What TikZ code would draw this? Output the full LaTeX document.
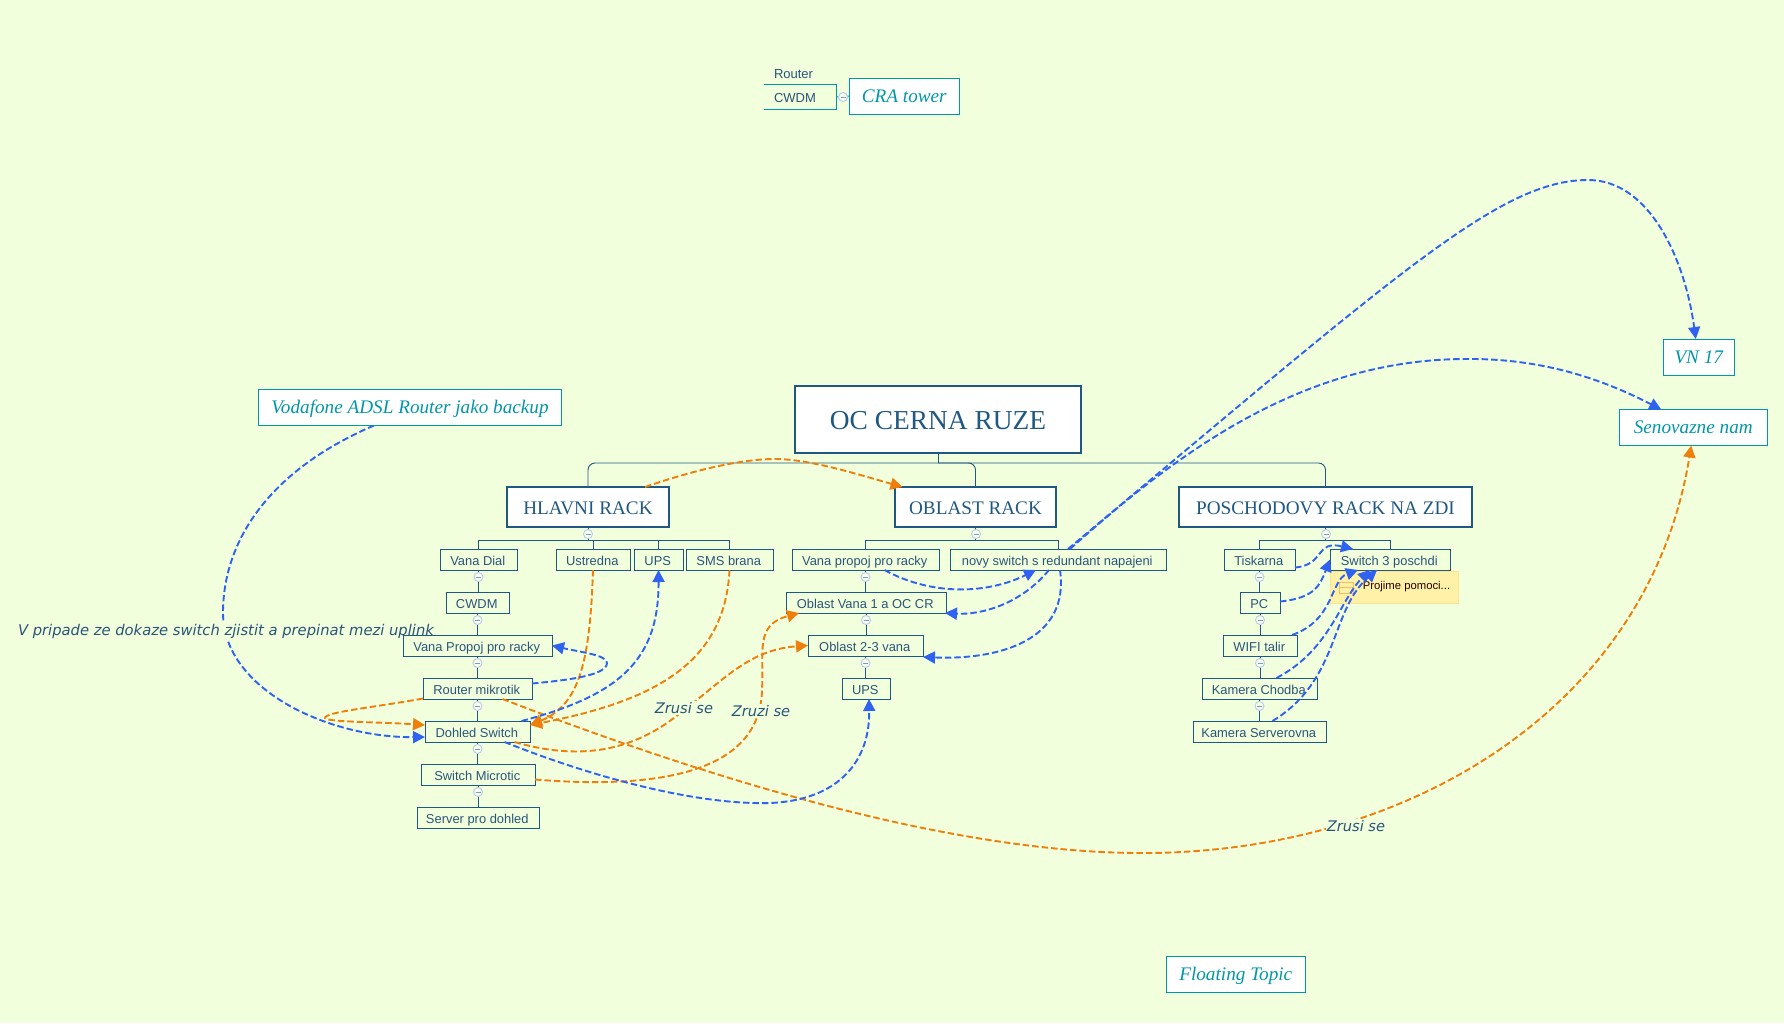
\documentclass[tikz,border=0pt]{standalone}
\usepackage{fontspec}
\setmainfont{Liberation Sans}
\newfontfamily\titlef{Liberation Serif}
\newfontfamily\oblf{DejaVu Sans}
\usetikzlibrary{arrows.meta,calc}
\definecolor{bgc}{HTML}{F1FFDD}
\definecolor{navy}{HTML}{1F5880}
\definecolor{teal2}{HTML}{0097A7}
\definecolor{bluec}{HTML}{2F62F0}
\definecolor{orangec}{HTML}{EF7F0A}
\definecolor{txt}{HTML}{2A5478}
\definecolor{notef}{HTML}{FFF1A8}
\definecolor{noteb}{HTML}{FFE28A}
\definecolor{circ}{HTML}{B9C8F0}
\pgfdeclarelayer{back}
\pgfsetlayers{back,main}
\newcommand{\bx}[7][]{\node[#1,minimum width={(#5-#3)*1pt},minimum height={(#6-#4)*1pt}] (#2) at ({(#3+#5)/2},{(#4+#6)/2}) {#7};}
\tikzset{
  every node/.style={inner sep=0pt,outer sep=0pt},
  rootbox/.style={draw=navy,line width=2.2pt,fill=white,text=navy,text height=20pt,text depth=0pt,font=\titlef\fontsize{27.4}{30}\selectfont},
  mainbox/.style={draw=navy,line width=2.2pt,fill=white,text=navy,text height=15.5pt,text depth=0pt,font=\titlef\fontsize{19.2}{22}\selectfont},
  leaf/.style={draw=navy,line width=0.9pt,text=txt,font=\fontsize{12.9}{15}\selectfont,text height=11.6pt,text depth=0pt,execute at end node={\hspace{1.5pt}}},
  floatbox/.style={draw=teal2,line width=1pt,fill=white,text=teal2,text height=12pt,text depth=0pt,font=\titlef\itshape\fontsize{19.2}{22}\selectfont},
  wire/.style={draw=navy,line width=0.9pt},
  collapse/.style={circle,draw=circ,fill=bgc!60!white,line width=0.9pt,minimum size=9pt,path picture={\draw[circ!60!navy,line width=0.7pt] ([xshift=-2.5pt]path picture bounding box.center) -- ([xshift=2.5pt]path picture bounding box.center);}},
  rel/.style={line width=1.9pt,dash pattern=on 6.5pt off 3pt,-{Triangle[length=12pt,width=12pt]}},
  relb/.style={rel,draw=bluec},
  relo/.style={rel,draw=orangec},
  lbl/.style={fill=bgc,text=txt,font=\oblf\itshape\fontsize{14.6}{17}\selectfont,inner sep=1pt}
}
\begin{document}
\begin{tikzpicture}[x=1pt,y=-1pt]
\begin{pgfonlayer}{back}
\fill[bgc] (0,0) rectangle (1784,1023);
\end{pgfonlayer}
\useasboundingbox (0,0) rectangle (1784,1023);
% main topics
\bx[rootbox]{oc}{795}{386}{1081}{453}{OC CERNA RUZE}
\bx[mainbox]{hl}{507}{487}{669}{527}{HLAVNI RACK}
\bx[mainbox]{ob}{895}{487}{1056}{527}{OBLAST RACK}
\bx[mainbox]{po}{1179}{487}{1472}{527}{POSCHODOVY RACK NA ZDI}
\coordinate (topbus) at (938,463);
\draw[wire] (oc.south) -- (topbus);
\draw[wire,rounded corners=7pt] (hl.north) |- (topbus);
\draw[wire,rounded corners=7pt] (ob.north) |- (topbus);
\draw[wire,rounded corners=7pt] (po.north) |- (topbus);
% leaves
\bx[leaf]{vd}{440}{549}{517}{570}{Vana Dial}
\bx[leaf]{us}{556}{549}{630}{570}{Ustredna}
\bx[leaf]{up}{634}{549}{683}{570}{UPS}
\bx[leaf]{sm}{686}{549}{773}{570}{SMS brana}
\bx[leaf]{cw}{446}{592}{509}{613}{CWDM}
\bx[leaf]{vp}{403}{635}{552}{656}{Vana Propoj pro racky}
\bx[leaf]{rm}{423}{678}{532}{699}{Router mikrotik}
\bx[leaf]{ds}{425}{721}{530}{742}{Dohled Switch}
\bx[leaf]{sw}{421}{764}{535}{785}{Switch Microtic}
\bx[leaf]{sd}{417}{807}{539}{828}{Server pro dohled}
\bx[leaf]{ov}{792}{549}{939}{570}{Vana propoj pro racky}
\bx[leaf]{ns}{950}{549}{1166}{570}{novy switch s redundant napajeni}
\bx[leaf]{o1}{786}{592}{946}{613}{Oblast Vana 1 a OC CR}
\bx[leaf]{o2}{808}{635}{923}{656}{Oblast 2-3 vana}
\bx[leaf]{ou}{842}{678}{890}{699}{UPS}
\bx[leaf]{ti}{1224}{549}{1295}{570}{Tiskarna}
\bx[leaf]{s3}{1330}{549}{1450}{570}{Switch 3 poschdi}
\bx[leaf]{pc}{1240}{592}{1280}{613}{PC}
\bx[leaf]{wi}{1223}{635}{1297}{656}{WIFI talir}
\bx[leaf]{kc}{1202}{678}{1317}{699}{Kamera Chodba}
\bx[leaf]{ks}{1193}{721}{1326}{742}{Kamera Serverovna}
% buses
\coordinate (b1) at (588,540);
\coordinate (b2) at (975.5,540);
\coordinate (b3) at (1325.5,540);
\draw[wire] (hl.south) -- (b1);
\draw[wire] (ob.south) -- (b2);
\draw[wire] (po.south) -- (b3);
\foreach \c in {vd,us,up,sm} {\draw[wire] (\c.north) |- (b1);}
\foreach \c in {ov,ns} {\draw[wire] (\c.north) |- (b2);}
\foreach \c in {ti,s3} {\draw[wire] (\c.north) |- (b3);}
% chains
\foreach \a/\b in {vd/cw,cw/vp,vp/rm,rm/ds,ds/sw,sw/sd,ov/o1,o1/o2,o2/ou,ti/pc,pc/wi,wi/kc,kc/ks} {
  \draw[wire] (\a.south) -- (\a.south |- \b.north);
  \node[collapse] at ([yshift=-7pt]\a.south) {};
}
\node[collapse] (c1) at (588,534) {};
\node[collapse] (c2) at (976,534) {};
\node[collapse] (c3) at (1326,534) {};
% note
\bx[draw=noteb,line width=0.8pt,fill=notef,text=black!85!red,font=\fontsize{11.3}{14}\selectfont]{nt}{1330}{571}{1458}{603}{\hspace*{25pt}Projime pomoci...}
\draw[orangec!45!notef,line width=1pt] (1339,582) rectangle (1353,587);
\draw[orangec!45!notef,line width=1pt] (1339,587) rectangle (1353,593);
% floating topics
\bx[floatbox]{vf}{258.5}{389}{561.5}{425.5}{Vodafone ADSL Router jako backup}
\bx[floatbox]{vn}{1663}{339}{1734.5}{375}{VN 17}
\bx[floatbox]{se}{1619}{409.5}{1767.5}{445.5}{Senovazne nam}
\bx[floatbox]{ft}{1166}{956}{1305.5}{992.5}{Floating Topic}
\bx[floatbox]{cr}{849}{78}{959.5}{114}{CRA tower}
% CWDM / Router attached to CRA tower
\node[text=txt,font=\fontsize{13}{15}\selectfont,anchor=base west] (rt) at (774,78) {Router};
\node[text=txt,font=\fontsize{13}{15}\selectfont,anchor=base west] (cd) at (774,102.5) {CWDM};
\coordinate (cdtl) at (764,84);
\coordinate (cdtr) at (836.5,84);
\coordinate (cdbr) at (836.5,109);
\coordinate (cdbl) at (764,109);
\draw[draw=teal2,line width=1pt] (cdtl) -- (cdtr) -- (cdbr) -- (cdbl);
\draw[draw=teal2,line width=1pt] (836.5,97) -- (cr.west);
\node[collapse] (c4) at (843,97) {};
% relationships: behind
\begin{pgfonlayer}{back}
\draw[relb] ([xshift=-36pt]vf.south) .. controls (270,470) and (223,540) .. (223,613) .. controls (223,690) and (330,738) .. ([yshift=-5.5pt]ds.west);
\node[lbl,anchor=west,font=\oblf\itshape\fontsize{14.75}{17}\selectfont] (vp2) at (17,631) {V pripade ze dokaze switch zjistit a prepinat mezi uplink};
\end{pgfonlayer}
% relationships: orange
\draw[relo] ([xshift=57pt]hl.north) .. controls (700,468) and (745,459) .. (775,459) .. controls (810,459) and (860,475) .. ([xshift=-73pt]ob.north);
\draw[relo] ([yshift=-10pt]rm.west) .. controls (370,708) and (325,712) .. (325,718) .. controls (325,722) and (380,722) .. ([yshift=6.5pt]ds.west);
\draw[relo] (us.south) .. controls (590,660) and (580,705) .. ([yshift=6.5pt]ds.east);
\draw[relo] (sm.south) .. controls (725,660) and (660,700) .. ([yshift=6.5pt]ds.east);
\draw[relo] ([xshift=37pt]ds.south) .. controls (570,758) and (620,755) .. (667,723) .. controls (720,685) and (745,650) .. (o2.west);
\draw[relo] ([yshift=-5pt]sw.east) .. controls (640,788) and (760,780) .. (762,690) .. controls (764,650) and (755,625) .. ([xshift=13pt]o1.south west);
\draw[relo] ([xshift=25pt]rm.south) .. controls (700,775) and (950,855) .. (1150,853) .. controls (1420,850) and (1650,700) .. ([xshift=-2pt]se.south);
% relationships: blue
\draw[relb] ([yshift=5pt]rm.east) .. controls (570,680) and (607,675) .. (607,663) .. controls (607,655) and (580,652) .. (vp.east);
\draw[relb] ([xshift=44pt]ds.north) .. controls (620,695) and (659,660) .. (up.south);
\draw[relb] ([xshift=27pt]ds.south) .. controls (600,780) and (700,805) .. (770,803) .. controls (840,800) and (870,760) .. ([xshift=3pt]ou.south);
\draw[relb] ([xshift=19pt]ov.south) .. controls (930,595) and (985,595) .. ([xshift=-22pt]ns.south);
\draw[relb] ([xshift=-9pt]ns.south) .. controls (1020,605) and (980,615) .. ([xshift=-1pt]o1.south east);
\draw[relb] ([xshift=2pt]ns.south) .. controls (1070,640) and (1000,660) .. ([yshift=-1pt]o2.south east);
\draw[relb] ([xshift=10pt]ns.north) .. controls (1399,272) and (1500,180) .. (1588,180) .. controls (1650,180) and (1685,260) .. ([xshift=-3pt]vn.north);
\draw[relb] ([xshift=12pt]ns.north) .. controls (1175,455) and (1300,360) .. (1464,359) .. controls (1540,358) and (1600,378) .. ([xshift=-32pt]se.north);
\draw[relb] ([yshift=-8pt]ti.east) .. controls (1325,565) and (1315,540) .. ([xshift=-37pt]s3.north);
\draw[relb] ([yshift=1pt]pc.east) .. controls (1315,598) and (1320,585) .. (s3.west);
\draw[relb] ([xshift=32pt]wi.north) .. controls (1335,620) and (1330,580) .. ([xshift=-32pt]s3.south);
\draw[relb] ([xshift=17pt]kc.north) .. controls (1330,650) and (1340,600) .. ([xshift=-20pt]s3.south);
\draw[relb] ([xshift=13pt]ks.north) .. controls (1340,680) and (1330,610) .. ([xshift=-13pt]s3.south);
% labels
\node[lbl] (z1) at (684,708) {Zrusi se};
\node[lbl] (z2) at (761,711) {Zruzi se};
\node[lbl] (z3) at (1356,826) {Zrusi se};
\end{tikzpicture}
\end{document}
